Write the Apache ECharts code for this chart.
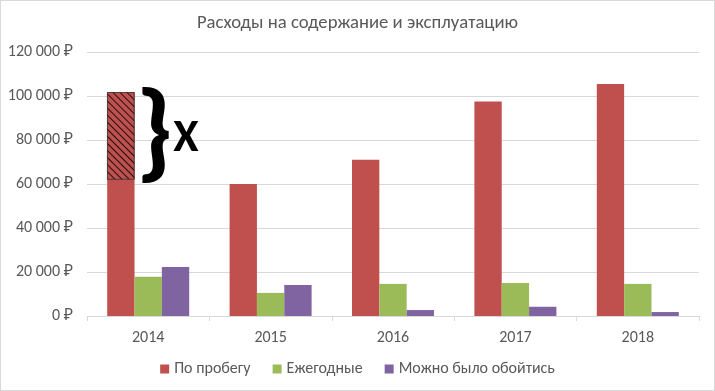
<!DOCTYPE html>
<html><head><meta charset="utf-8">
<script src="https://cdn.jsdelivr.net/npm/echarts@6/dist/echarts.min.js"></script>
<style>html,body{margin:0;padding:0;background:#fff}#c{width:715px;height:391px;box-sizing:border-box;border:1px solid #d9d9d9}</style>
</head><body><div id="c"></div>
<script>
const title = 'Расходы на содержание и эксплуатацию';
const categories = ['2014', '2015', '2016', '2017', '2018'];
const seriesNames = ['По пробегу', 'Ежегодные', 'Можно было обойтись'];
const byMileage = [62000, 60000, 71000, 97500, 105500];
const annual = [17800, 10500, 14600, 15000, 14600];
const avoidable = [22300, 14100, 2700, 4200, 1800];
// hatched "X" segment stacked on top of the 2014 mileage bar
const extraX = [39700, null, null, null, null];
const yTicks = { min: 0, max: 120000, interval: 20000 };

const FONT = 'Carlito, Calibri, "Open Sans", "Noto Sans", "DejaVu Sans", sans-serif';
const chart = echarts.init(document.getElementById('c'), null, { renderer: 'canvas' });
chart.setOption({
  animation: false,
  title: { text: title, left: 'center', top: 8, textStyle: { fontFamily: FONT, fontSize: 18.7, fontWeight: 'normal', color: '#595959' } },
  grid: { left: 86, right: 15, top: 51, bottom: 74 },
  legend: {
    data: seriesNames, bottom: 8, left: 'center', itemWidth: 9, itemHeight: 9, itemGap: 22,
    icon: 'rect', textStyle: { fontFamily: FONT, fontSize: 16, color: '#595959' }
  },
  xAxis: {
    type: 'category', data: categories,
    axisLine: { lineStyle: { color: '#d9d9d9' } },
    axisTick: { show: true, length: 5, lineStyle: { color: '#d9d9d9' } },
    axisLabel: { fontFamily: FONT, fontSize: 16, color: '#595959', margin: 14 }
  },
  yAxis: {
    type: 'value', min: yTicks.min, max: yTicks.max, interval: yTicks.interval,
    axisLine: { show: false }, axisTick: { show: false },
    splitLine: { lineStyle: { color: '#d9d9d9' } },
    axisLabel: {
      fontFamily: FONT, fontSize: 16, color: '#595959', margin: 14,
      formatter: v => String(v).replace(/\B(?=(\d{3})+(?!\d))/g, ' ') + ' ₽'
    }
  },
  series: [
    { name: seriesNames[0], type: 'bar', stack: 'a', data: byMileage, barGap: '0%', barCategoryGap: '33%', itemStyle: { color: '#C0504D' } },
    {
      name: 'X', type: 'bar', stack: 'a', data: extraX,
      itemStyle: {
        color: '#C0504D', borderColor: '#2a1a1a', borderWidth: 0.5,
        decal: { symbol: 'rect', symbolSize: 1, dashArrayX: [1, 0], dashArrayY: [1, 4], rotation: Math.PI / 4, color: '#1a1010' }
      },
      label: {
        show: true, position: 'right', distance: 1, offset: [0, 4],
        formatter: '}{x|X}',
        fontFamily: FONT, fontSize: 110, color: '#000', fontWeight: 'bold',
        rich: { x: { fontFamily: FONT, fontSize: 46, fontWeight: 'bold', color: '#000', padding: [0, 0, 0, 0] } }
      }
    },
    { name: seriesNames[1], type: 'bar', data: annual, itemStyle: { color: '#9BBB59' } },
    { name: seriesNames[2], type: 'bar', data: avoidable, itemStyle: { color: '#8064A2' } }
  ]
});
</script></body></html>
